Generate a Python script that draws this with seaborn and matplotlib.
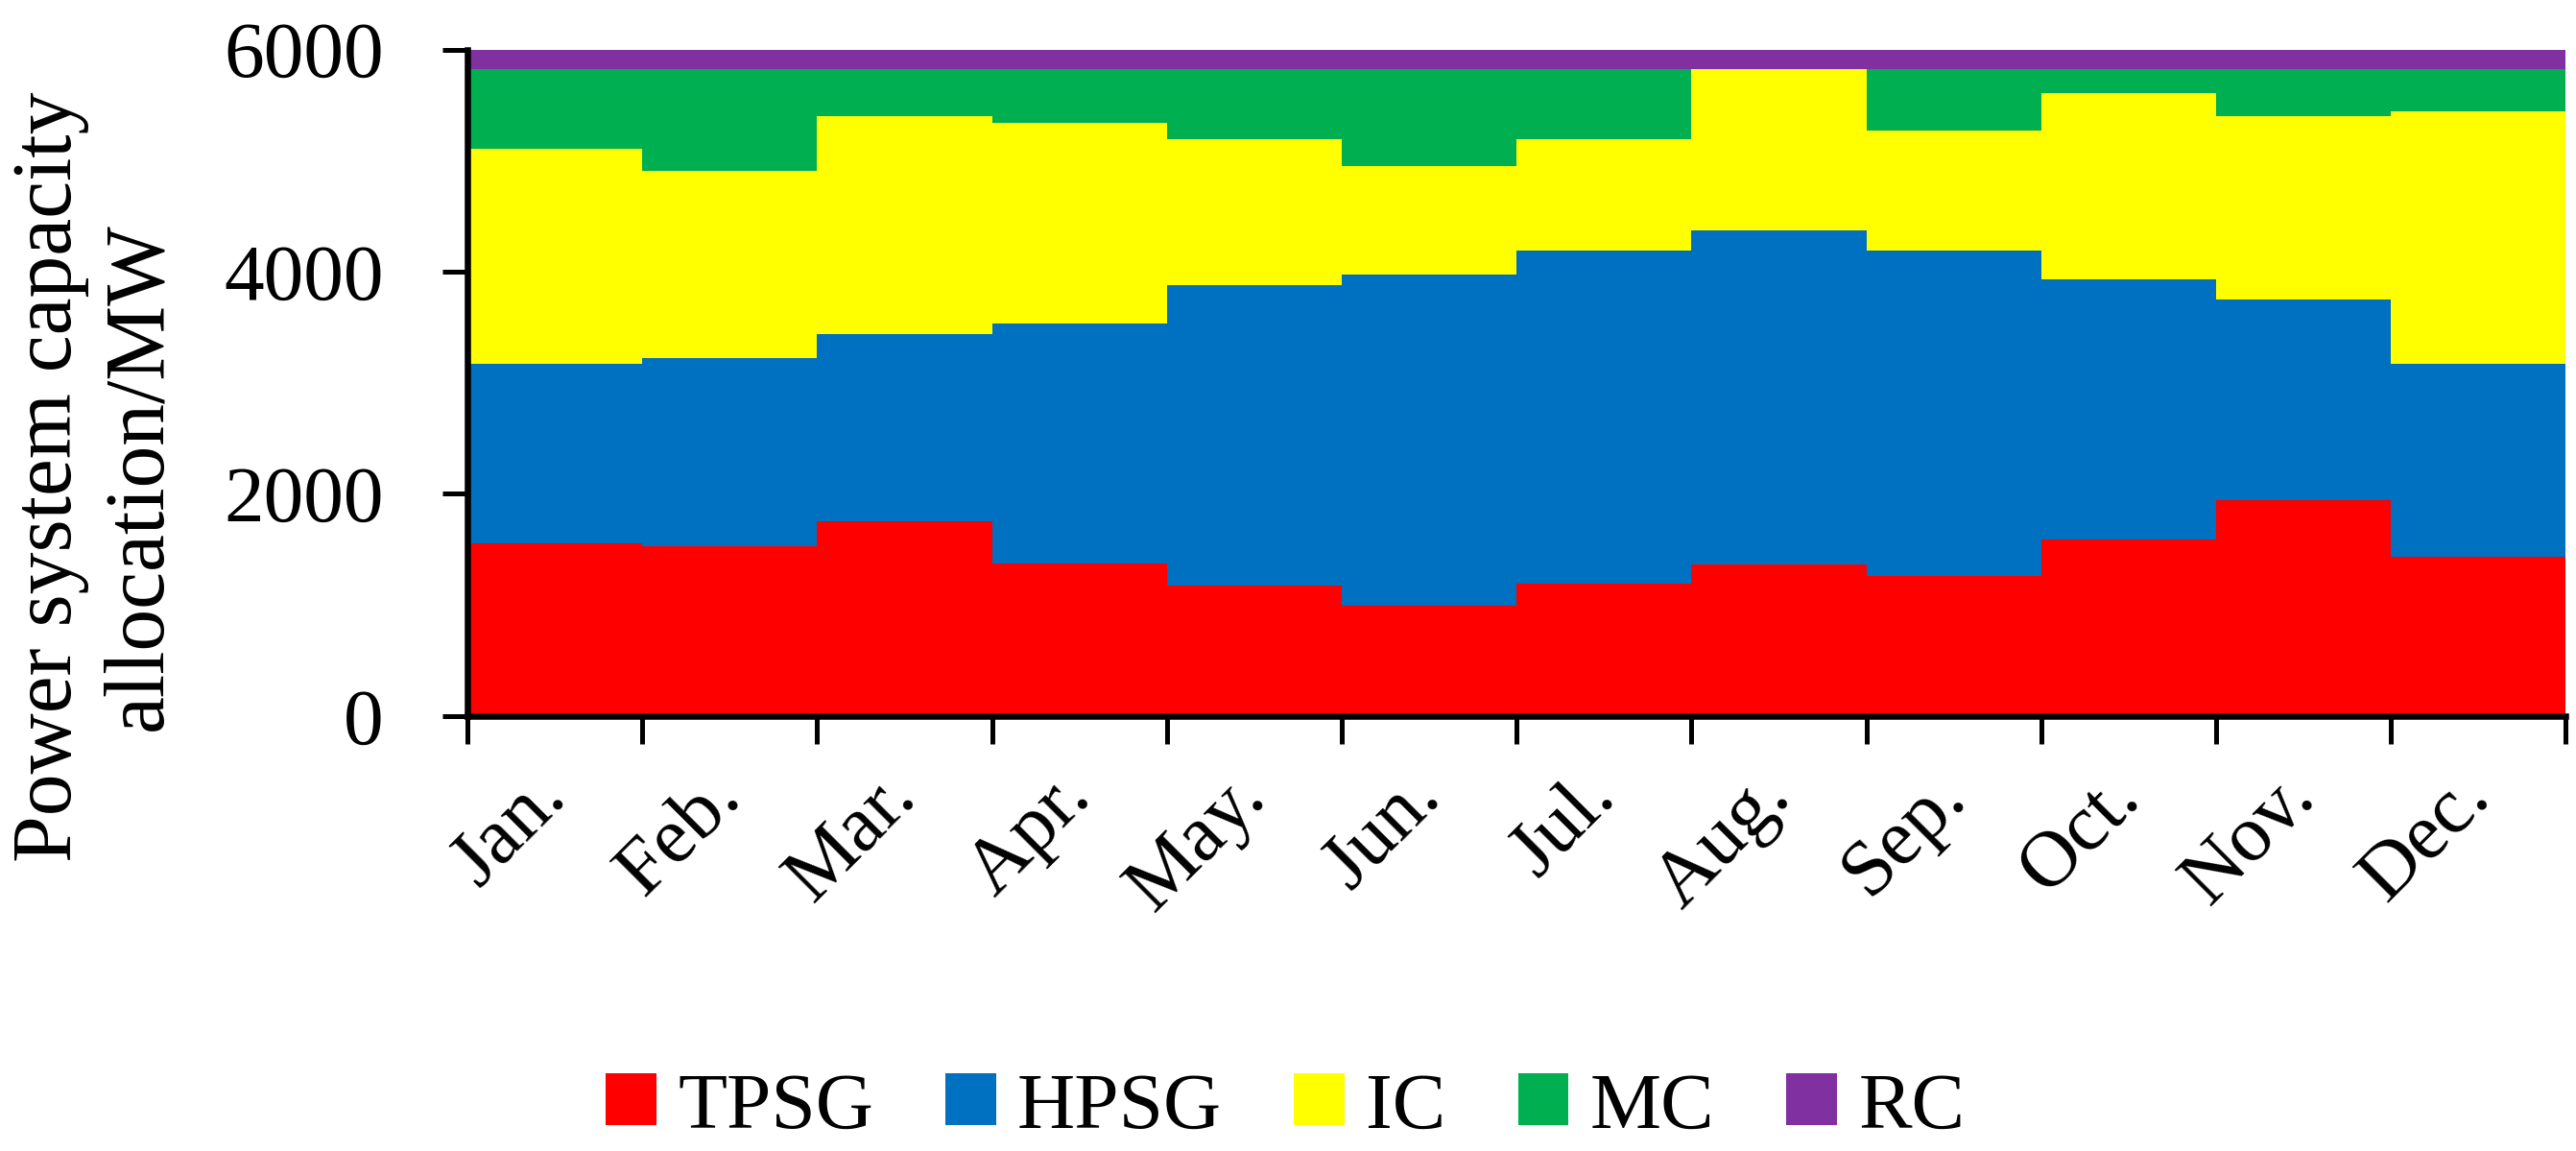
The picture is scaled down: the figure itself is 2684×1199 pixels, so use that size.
import numpy as np
import pandas as pd
import matplotlib
matplotlib.use("Agg")
import matplotlib.pyplot as plt
from matplotlib.patches import Patch
import seaborn as sns

months = ["Jan.", "Feb.", "Mar.", "Apr.", "May.", "Jun.", "Jul.", "Aug.", "Sep.", "Oct.", "Nov.", "Dec."]
series_names = ["TPSG", "HPSG", "IC", "MC", "RC"]
tpsg = [1550, 1530, 1750, 1370, 1170, 990, 1190, 1360, 1260, 1590, 1940, 1430]
hpsg = [1620, 1690, 1690, 2160, 2710, 2980, 3000, 3010, 2930, 2340, 1810, 1740]
ic = [1940, 1690, 1960, 1810, 1310, 980, 1000, 1450, 1080, 1680, 1650, 2270]
mc = [710, 910, 420, 480, 630, 870, 630, 0, 550, 210, 420, 380]
rc = [180, 180, 180, 180, 180, 180, 180, 180, 180, 180, 180, 180]
colors = ["#FF0000", "#0070C0", "#FFFF00", "#00B050", "#8030A0"]

sns.set_theme(style="white")
plt.rcParams["font.family"] = ["Liberation Serif", "DejaVu Serif"]
plt.rcParams["text.color"] = "black"
plt.rcParams["xtick.color"] = "black"
plt.rcParams["ytick.color"] = "black"
plt.rcParams["axes.labelcolor"] = "black"

df = pd.DataFrame({"month": months, "TPSG": tpsg, "HPSG": hpsg, "IC": ic, "MC": mc, "RC": rc})
cum = df[series_names].cumsum(axis=1)

fig = plt.figure(figsize=(26.84, 11.99), dpi=100)
ax = fig.add_axes([0.1815, 0.378, 0.8145, 0.579])

# draw cumulative totals from top layer down so lower layers overpaint
for name, col in reversed(list(zip(series_names, colors))):
    sns.barplot(x=df["month"], y=cum[name], order=months, color=col, width=1.0,
                linewidth=0, saturation=1, antialiased=False, ax=ax, errorbar=None)

ax.set_xlim(-0.5, 11.5)
ax.set_ylim(0, 6000)
ax.set_yticks([0, 2000, 4000, 6000])
ax.set_yticklabels(["0", "2000", "4000", "6000"])
ax.set_xlabel("")
ax.set_ylabel("")

# major ticks at bar boundaries, labels on minor ticks at bar centres
ax.set_xticks(np.arange(-0.5, 12, 1.0))
ax.set_xticklabels([""] * 13)
ax.set_xticks(np.arange(12), minor=True)
ax.set_xticklabels(months, minor=True, rotation=45, ha="right", va="center",
                   rotation_mode="anchor", color="black")
ax.tick_params(axis="x", which="major", bottom=True, direction="out", length=21, width=3.6,
               color="black")
ax.tick_params(axis="x", which="minor", bottom=True, length=0, pad=52, labelsize=60,
               labelcolor="black")
ax.tick_params(axis="y", which="major", left=True, direction="out", length=19, width=3.6,
               color="black", pad=44, labelsize=60, labelcolor="black")
ax.set_axisbelow(False)

for s in ["top", "right"]:
    ax.spines[s].set_visible(False)
for s in ["left", "bottom"]:
    ax.spines[s].set_visible(True)
    ax.spines[s].set_linewidth(4.7)
    ax.spines[s].set_color("black")
    ax.spines[s].set_zorder(5)

fig.text(0.037, 0.586, "Power system capacity\nallocation/MW", rotation=90,
         ha="center", va="center", fontsize=63, linespacing=1.2, color="black")

handles = [Patch(facecolor=c, edgecolor="none", label=n) for n, c in zip(series_names, colors)]
leg = fig.legend(handles=handles, loc="center", bbox_to_anchor=(0.499, 0.037), ncol=5,
                 frameon=False, fontsize=60, handlelength=0.63, handleheight=0.63,
                 handletextpad=0.27, columnspacing=0.9, borderpad=0)
for t in leg.get_texts():
    t.set_color("black")

fig.savefig("out.png", dpi=100)
